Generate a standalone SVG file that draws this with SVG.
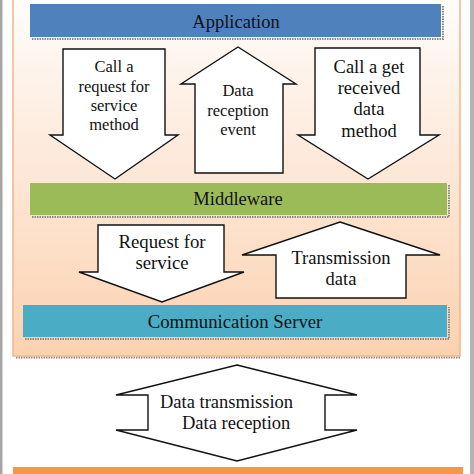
<svg xmlns="http://www.w3.org/2000/svg" width="474" height="474" viewBox="0 0 474 474">
<defs>
<linearGradient id="peach" x1="0" y1="0" x2="0" y2="1">
<stop offset="0" stop-color="#fffdfb"/>
<stop offset="0.45" stop-color="#fde9da"/>
<stop offset="1" stop-color="#fbd2b0"/>
</linearGradient>
<style>
.t{fill:#111;text-anchor:middle}
.arrow{fill:#fff;stroke:#111;stroke-width:1.4;stroke-linejoin:miter}
.shadow{fill:none;stroke:#8a8a8a;stroke-width:2;stroke-dasharray:1.5 1}
</style>
</defs>
<rect x="0" y="0" width="474" height="474" fill="#fff"/>
<rect x="0" y="0" width="2.5" height="474" fill="#a6a6a6"/>
<rect x="470" y="0" width="4" height="474" fill="#b3b3b3"/>
<g id="outer">
<path class="shadow" d="M16 357.5 H460"/>
<rect x="13" y="-5" width="447" height="361" fill="url(#peach)" stroke="#f2b48a" stroke-width="1.5"/>
</g>
<g font-family="Liberation Serif, Times New Roman, DejaVu Serif, serif">
<g id="application">
<path class="shadow" d="M32 39 H443 V6"/>
<rect x="30" y="4" width="411" height="33" fill="#4f81bd"/>
<text class="t" x="236" y="28" font-size="18.5">Application</text>
</g>
<g id="middleware">
<path class="shadow" d="M32 217 H449 V185"/>
<rect x="30" y="183" width="417" height="32" fill="#9bbb59"/>
<text class="t" x="238" y="205" font-size="18.5">Middleware</text>
</g>
<g id="communication-server">
<path class="shadow" d="M25 339 H449 V307"/>
<rect x="23" y="305" width="424" height="32" fill="#4bacc6"/>
<text class="t" x="235" y="328" font-size="18.8">Communication Server</text>
</g>
<g id="bottom-bar">
<rect x="13" y="467" width="450" height="8" fill="#f79646"/>
</g>
<g id="connectors">
<g id="call-request">
<polygon class="arrow" points="63,49 165,49 165,135 178,135 115,179 50,135 63,135"/>
<text class="t" font-size="16.5"><tspan x="114" y="72">Call a</tspan><tspan x="114" y="92">request for</tspan><tspan x="114" y="111">service</tspan><tspan x="114" y="130">method</tspan></text>
</g>
<g id="data-reception-event">
<polygon class="arrow" points="238,47 296,84 283,84 283,173 195,173 195,84 181,84"/>
<text class="t" font-size="16.5"><tspan x="238" y="96">Data</tspan><tspan x="238" y="116">reception</tspan><tspan x="238" y="135">event</tspan></text>
</g>
<g id="call-get">
<polygon class="arrow" points="315,48 420,48 420,135 439,135 368,179 298,135 315,135"/>
<text class="t" font-size="18.5"><tspan x="369" y="73">Call a get</tspan><tspan x="369" y="94">received</tspan><tspan x="369" y="115">data</tspan><tspan x="369" y="137">method</tspan></text>
</g>
<g id="request-for-service">
<polygon class="arrow" points="98,225 224,225 224,272 244,272 162,302 79,272 98,272"/>
<text class="t" font-size="18.8"><tspan x="162" y="248">Request for</tspan><tspan x="162" y="269">service</tspan></text>
</g>
<g id="transmission-data">
<polygon class="arrow" points="340,222 440,255 406,255 406,298 276,298 276,255 242,255"/>
<text class="t" font-size="18.5"><tspan x="341" y="264">Transmission</tspan><tspan x="341" y="285">data</tspan></text>
</g>
<g id="data-exchange">
<polygon class="arrow" points="237,365 357,395 325,395 325,430 357,430 237,461 116,430 148,430 148,395 116,395"/>
<text class="t" font-size="18.5" text-anchor="start" style="text-anchor:start"><tspan x="160" y="408">Data transmission</tspan><tspan x="182" y="429">Data reception</tspan></text>
</g>
</g>
</g>
</svg>
